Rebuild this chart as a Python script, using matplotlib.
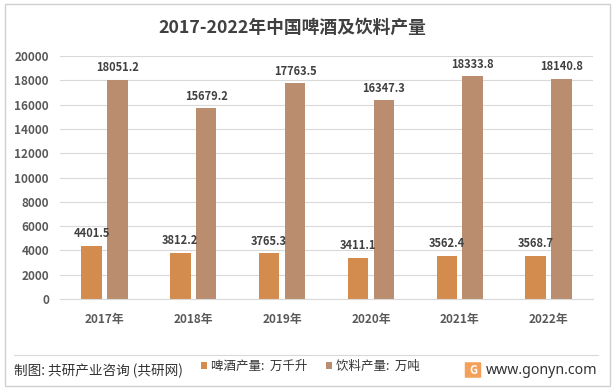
import matplotlib.pyplot as plt
import numpy as np
from matplotlib.patches import Rectangle, FancyBboxPatch

plt.rcParams['font.family'] = ['Noto Sans CJK SC', 'DejaVu Sans']

years = ['2017年', '2018年', '2019年', '2020年', '2021年', '2022年']
beer = [4401.5, 3812.2, 3765.3, 3411.1, 3562.4, 3568.7]
drinks = [18051.2, 15679.2, 17763.5, 16347.3, 18333.8, 18140.8]

beer_color = '#D38B4E'
drink_color = '#B98D6E'
text_color = '#404040'

W, H = 616, 389
fig = plt.figure(figsize=(W / 100, H / 100), dpi=100)
ax = fig.add_axes([60 / W, 1 - 299 / H, 533 / W, 243 / H])

x = np.arange(len(years))
w = 0.23
off = 0.145
b1 = ax.bar(x - off, beer, w, color=beer_color, label='啤酒产量:  万千升')
b2 = ax.bar(x + off, drinks, w, color=drink_color, label='饮料产量:  万吨')

for bars, vals in ((b1, beer), (b2, drinks)):
    for r, v in zip(bars, vals):
        ax.text(r.get_x() + r.get_width() / 2, v + 450, f'{v:.1f}',
                ha='center', va='bottom', fontsize=8, fontweight='bold', color=text_color)

ax.set_xlim(-0.5, len(years) - 0.5)
ax.set_ylim(0, 20000)
ax.set_yticks(range(0, 20001, 2000))
ax.set_xticks(x)
ax.set_xticklabels(years)
ax.tick_params(axis='both', length=0, labelsize=8.5, colors='#595959', pad=8)
ax.tick_params(axis='x', pad=10)
for lab in ax.get_xticklabels() + ax.get_yticklabels():
    lab.set_fontweight('bold')
ax.grid(axis='y', color='#D9D9D9', linewidth=0.8)
ax.set_axisbelow(True)
for s in ['top', 'right', 'left']:
    ax.spines[s].set_visible(False)
ax.spines['bottom'].set_color('#D9D9D9')

fig.text(292 / W, 1 - 28 / H, '2017-2022年中国啤酒及饮料产量', ha='center', va='center',
         fontsize=12.8, fontweight='bold', color=text_color)

# outer frame and footer
fig.patches.append(Rectangle((5 / W, 3 / H), 605 / W, 382 / H, transform=fig.transFigure,
                             fill=False, edgecolor='#D0D0D0', linewidth=1))
fig.lines.append(plt.Line2D([14 / W, 598 / W], [1 - 355 / H, 1 - 355 / H],
                            transform=fig.transFigure, color='#D9D9D9', linewidth=0.8))

fig.text(14 / W, 1 - 371 / H, '制图: 共研产业咨询 (共研网)', ha='left', va='center',
         fontsize=9.8, color='#333333')

leg = fig.legend(handles=[b1, b2], loc='center left', bbox_to_anchor=(201 / W, 1 - 366 / H),
                 ncol=2, frameon=False, fontsize=9, handlelength=0.5, handleheight=0.5,
                 columnspacing=1.5, handletextpad=0.3, borderpad=0, borderaxespad=0)
for t in leg.get_texts():
    t.set_color('#333333')

fig.patches.append(FancyBboxPatch((466 / W, 1 - 377 / H), 14 / W, 14 / H,
                                  boxstyle='round,pad=0.002', transform=fig.transFigure,
                                  facecolor='#F5A05A', edgecolor='none'))
fig.text(466 / W + 7 / W, 1 - 370 / H, 'G', ha='center', va='center', fontsize=8,
         fontweight='bold', color='white')
fig.text(597 / W, 1 - 371 / H, 'www.gonyn.com', ha='right', va='center',
         fontsize=10.2, color='#333333', family=['Noto Sans'])

fig.savefig('out.png', dpi=100)
